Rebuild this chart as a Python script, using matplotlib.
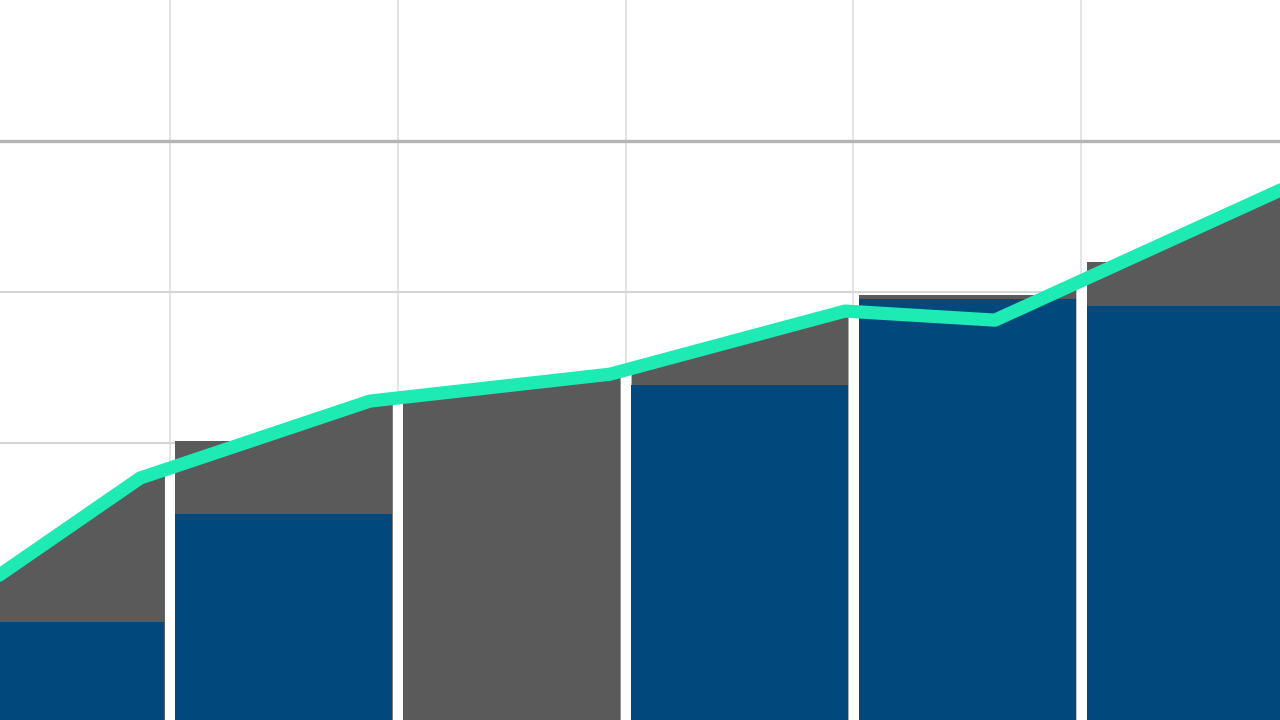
import numpy as np
import matplotlib
matplotlib.use("Agg")
import matplotlib.pyplot as plt

# ---- data ----
bar_pos = [-0.5, 0.5, 1.5, 2.5, 3.5, 4.5]            # category positions
grey_vals = [50.0, 100.7, 117.3, 118.0, 149.0, 160.0]  # back (grey) series
blue_vals = [40.7, 76.5, 0.0, 119.2, 147.7, 145.4]     # front (blue) series
line_x = [-1.0, -0.131, 0.878, 1.931, 2.963, 3.621, 5.0]
line_y = [43.2, 88.4, 113.9, 122.8, 143.7, 140.7, 188.1]
y_grid = [50, 100, 150]
y_target = 200
x_grid = [0, 1, 2, 3, 4]

GREY = "#5a5a5a"
BLUE = "#01497c"
MINT = "#1eebb4"

fig = plt.figure(figsize=(12.8, 7.2), dpi=100)
ax = fig.add_axes([0, 0, 1, 1])
ax.set_xlim(-0.7457, 4.872)
ax.set_ylim(8.3, 246.7)
for s in ax.spines.values():
    s.set_visible(False)
ax.set_xticks([])
ax.set_yticks([])

for gx in x_grid:
    ax.axvline(gx, color="#e2e2e2", lw=1.3, zorder=0)
for gy in y_grid:
    ax.axhline(gy, color="#d6d6d6", lw=1.5, zorder=0)
ax.axhline(y_target, color="#b4b4b4", lw=2.4, zorder=0)

lx = np.array(line_x)
ly = np.array(line_y)
# white under the line hides grid in the gaps between bars
ax.fill_between(lx, 0, ly, color="white", lw=0, zorder=0.5)

width = 0.952
for xc, g, b in zip(bar_pos, grey_vals, blue_vals):
    l, r = xc - width / 2, xc + width / 2
    inner = lx[(lx > l) & (lx < r)]
    xs = np.concatenate([[l], inner, [r]])
    ys = np.interp(xs, lx, ly)
    ax.fill_between(xs, 0, ys, color=GREY, lw=0, zorder=1)
    ax.bar(xc, g, width=width, color=GREY, lw=0, zorder=2)
    if b > 0:
        ax.bar(xc, b, width=width, color=BLUE, lw=0, zorder=3)

ax.plot(line_x, line_y, color=MINT, lw=9.5, solid_joinstyle="round",
        solid_capstyle="round", zorder=4)

fig.savefig("out.png", dpi=100)
